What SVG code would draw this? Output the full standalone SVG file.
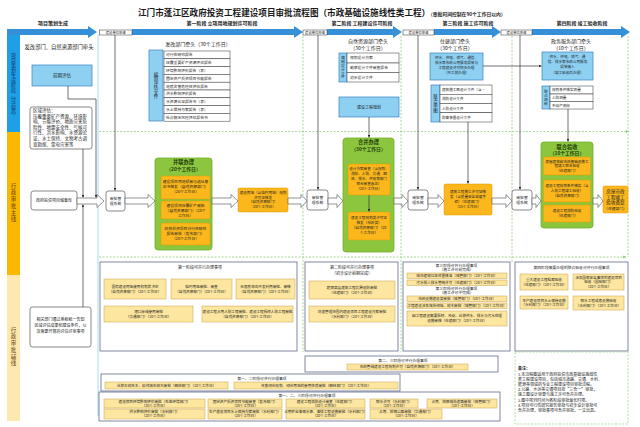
<svg xmlns="http://www.w3.org/2000/svg" width="640" height="427" viewBox="0 0 640 427">
<style>
text{font-family:"Noto Sans CJK SC","Noto Sans",sans-serif;fill:#222}
.ttl{font-size:8.6px;font-weight:bold;fill:#1a1a1a}
.sub{font-size:4.8px;font-weight:bold}
.stg{font-size:5px;font-weight:bold}
.lead{font-size:5px}
.f3{font-size:3.3px}
.f35{font-size:3.6px}
.f38{font-size:3.8px}
.f4{font-size:4px}
.f45{font-size:4.5px}
.gt{font-size:5.2px;font-weight:bold;fill:#1d3a0a}
.vt{writing-mode:vertical-rl}
.blue{fill:#8dd0f2;stroke:#3c80c2;stroke-width:0.7}
.grn{fill:#8cc63f;stroke:#72ad2c;stroke-width:0.8}
.org{fill:#fbb71c;stroke:#e39800;stroke-width:0.5}
.aux{fill:#fde69f;stroke:#c9a04a;stroke-width:0.5}
.wb{fill:#fff;stroke:#555;stroke-width:0.7}
.box{fill:#fff;stroke:#4a5778;stroke-width:0.7}
.row{fill:#fff;stroke:#333;stroke-width:0.5}
.ln{stroke:#333;stroke-width:0.7;fill:none}
.dash{stroke:#8fd07c;stroke-width:0.8;stroke-dasharray:2 1.5;fill:none}
.hol{fill:#fff;stroke:#666;stroke-width:0.7}
.bar{fill:#3590d8}
.app{fill:#fff;stroke:#333;stroke-width:0.5}
</style>
<defs>
<marker id="ah" viewBox="0 0 6 6" refX="6" refY="3" markerWidth="4" markerHeight="4" orient="auto"><path d="M0,0 L6,3 L0,6 z" fill="#222"/></marker>
<marker id="ga" viewBox="0 0 6 6" refX="6" refY="3" markerWidth="4" markerHeight="4" orient="auto"><path d="M0,0 L6,3 L0,6 z" fill="#8fd07c"/></marker>
</defs>
<rect width="640" height="427" fill="#fff"/>

<!-- title -->
<text class="ttl" x="138" y="16">江门市蓬江区政府投资工程建设项目审批流程图（市政基础设施线性类工程）</text>
<text class="sub" x="428" y="15.5">（审批时间控制在90个工作日以内）</text>

<!-- left bands -->
<g id="bands">
<rect x="7" y="29" width="13" height="103" fill="#1fa0e6"/>
<rect x="7" y="132" width="13" height="143" fill="#fbb800"/>
<rect x="7" y="275" width="13" height="146" fill="#fde9b0"/>
<text class="vt" x="13.5" y="85" text-anchor="middle" style="font-size:5px;fill:#0b3a6a">项目策划生成阶段（可前置）</text>
<text class="vt" x="13.5" y="203" text-anchor="middle" style="font-size:5.5px;fill:#6b4300;letter-spacing:1.2px">行政审批主线</text>
<text class="vt" x="13.5" y="347" text-anchor="middle" style="font-size:5.5px;fill:#6b4300;letter-spacing:1.2px">行政审批辅线</text>
</g>

<!-- top stage bar -->
<g id="stagebar">
<rect class="bar" x="7" y="29" width="81" height="6"/>
<path class="bar" d="M88,26 L97,32 L88,38 z"/>
<rect class="bar" x="132" y="29" width="162" height="6"/>
<path class="bar" d="M294,26 L303,32 L294,38 z"/>
<rect class="bar" x="327" y="29" width="66" height="6"/>
<path class="bar" d="M393,26 L402,32 L393,38 z"/>
<rect class="bar" x="434" y="29" width="58" height="6"/>
<path class="bar" d="M492,26 L501,32 L492,38 z"/>
<rect class="bar" x="532" y="29" width="89" height="6"/>
<path class="bar" d="M621,26 L630,32 L621,38 z"/>
<text class="stg" x="53" y="25" text-anchor="middle">项目策划生成</text>
<text class="stg" x="222" y="25" text-anchor="middle">第一阶段  立项用地规划许可阶段</text>
<text class="stg" x="362" y="25" text-anchor="middle">第二阶段  工程建设许可阶段</text>
<text class="stg" x="468" y="25" text-anchor="middle">第三阶段  施工许可阶段</text>
<text class="stg" x="582" y="25" text-anchor="middle">第四阶段  竣工验收阶段</text>
</g>

<!-- dividers -->
<g id="dividers">
<line x1="98" y1="35" x2="98" y2="416" stroke="#a8dcef" stroke-width="1"/>
<line class="dash" x1="303" y1="36" x2="303" y2="352"/>
<line class="dash" x1="401" y1="36" x2="401" y2="352"/>
<line class="dash" x1="512" y1="36" x2="512" y2="262"/>
<line class="dash" x1="628" y1="36" x2="628" y2="257"/>
<line class="dash" x1="99" y1="131.5" x2="629" y2="131.5" marker-end="url(#ga)"/>
<line class="dash" x1="99" y1="257" x2="626" y2="257" marker-end="url(#ga)"/>
</g>

<!-- applicant boxes -->
<g id="apply1"><rect class="app" x="99.5" y="30" width="32.5" height="5"/><text class="f3" x="115.7" y="33.8" text-anchor="middle">建设单位申请</text></g>
<g id="apply2"><rect class="app" x="303" y="30" width="24" height="5"/><text class="f3" x="315" y="33.8" text-anchor="middle">建设单位申请</text></g>
<g id="apply3"><rect class="app" x="403" y="30" width="31" height="5"/><text class="f3" x="418.5" y="33.8" text-anchor="middle">建设单位申请</text></g>
<g id="apply4"><rect class="app" x="501" y="30" width="31" height="5"/><text class="f3" x="516.5" y="33.8" text-anchor="middle">建设单位申请</text></g>

<!-- planning column -->
<text style="font-size:5.3px" x="59" y="48.5" text-anchor="middle">发改部门、自然资源部门牵头</text>
<g id="pre-eval"><rect class="blue" x="32" y="65" width="60" height="21"/><text class="f45" x="62" y="77" text-anchor="middle">前期评估</text></g>
<g id="region-eval"><rect class="wb" x="30" y="107" width="62" height="42" rx="2.5"/>
<text class="f45"><tspan x="33" y="112">区域评估：</tspan><tspan x="33" y="117.6">压覆重要矿产资源、环境影</tspan><tspan x="33" y="123.2">响、节能评价、地质灾害危</tspan><tspan x="33" y="128.8">险性、地震安全性、气候可</tspan><tspan x="33" y="134.4">行性、洪水影响、水资源论</tspan><tspan x="33" y="140">证、水土保持、文物考古调</tspan><tspan x="33" y="145.6">查勘探、雷电灾害等</tspan></text></g>
<g id="reserve"><rect class="wb" x="31" y="191" width="46" height="19" rx="2.5"/><text class="f4" x="54" y="202" text-anchor="middle">政府投资项目储备库</text></g>
<g id="notify"><rect class="wb" x="30" y="307" width="61" height="40" rx="2.5"/>
<text class="f4" text-anchor="middle"><tspan x="60.5" y="321">相关部门通过系统统一告知</tspan><tspan x="60.5" y="327">区域评估成果和建设条件，以</tspan><tspan x="60.5" y="333">及需要开展的评估评审事项</tspan></text></g>

<!-- stage 1 -->
<text class="lead" x="198" y="46" text-anchor="middle">发改部门牵头（30个工作日）</text>
<g id="s1-docs">
<rect class="blue" x="149" y="50" width="14" height="71"/>
<text class="vt" x="156" y="85.5" text-anchor="middle" style="font-size:4.5px">编制评估文件</text>
<rect class="row" x="164" y="51" width="66" height="7.8"/><text class="f38" x="166" y="56.3">可行性研究报告</text>
<rect class="row" x="164" y="58.8" width="66" height="7.8"/><text class="f38" x="166" y="64.1">压覆重要矿产资源评估报告</text>
<rect class="row" x="164" y="66.6" width="66" height="7.8"/><text class="f38" x="166" y="71.9">环境影响评价报告（表）</text>
<rect class="row" x="164" y="74.4" width="66" height="7.8"/><text class="f38" x="166" y="79.7">固定资产投资项目节能报告</text>
<rect class="row" x="164" y="82.2" width="66" height="7.8"/><text class="f38" x="166" y="87.5">地质灾害危险性评估报告</text>
<rect class="row" x="164" y="90" width="66" height="7.8"/><text class="f38" x="166" y="95.3">洪水影响评价报告</text>
<rect class="row" x="164" y="97.8" width="66" height="7.8"/><text class="f38" x="166" y="103.1">水资源论证报告书（表）</text>
<rect class="row" x="164" y="105.6" width="66" height="7.8"/><text class="f38" x="166" y="110.9">水土保持方案报告（表）</text>
<rect class="row" x="164" y="113.4" width="66" height="7.8"/><text class="f38" x="166" y="118.7">社会稳定风险评估报告书</text>
</g>
<g id="s1-sys"><rect class="wb" x="106" y="191" width="19" height="20" rx="2.5"/><text class="f38" text-anchor="middle"><tspan x="115.5" y="199.5">审批管</tspan><tspan x="115.5" y="204.5">理系统</tspan></text></g>
<g id="s1-parallel">
<rect class="grn" x="155" y="158" width="57" height="92" rx="3"/>
<text class="gt" x="183.5" y="164" text-anchor="middle">并联办理</text>
<text class="gt" x="183.5" y="170.5" text-anchor="middle" style="font-size:4.8px">（20个工作日）</text>
<rect class="org" x="161" y="176" width="49" height="23" rx="1.5"/>
<text class="f38" text-anchor="middle"><tspan x="185.5" y="182.5">建设项目用地预审与选址意</tspan><tspan x="185.5" y="187.5">见书核发（自然资源部门）</tspan><tspan x="185.5" y="192.5">（20个工作日）</tspan></text>
<rect class="org" x="161" y="201" width="49" height="18" rx="1.5"/>
<text class="f38" text-anchor="middle"><tspan x="185.5" y="206.5">建设项目压覆矿产审批</tspan><tspan x="185.5" y="211.5">（自然资源部门）（20个</tspan><tspan x="185.5" y="216.5">工作日）</tspan></text>
<rect class="org" x="161" y="223" width="49" height="22" rx="1.5"/>
<text class="f38" text-anchor="middle"><tspan x="185.5" y="229.5">政府投资项目可行性研究</tspan><tspan x="185.5" y="234.5">报告审批（发改部门）</tspan><tspan x="185.5" y="239.5">（20个工作日）</tspan></text>
</g>
<g id="s1-landplan"><rect class="org" x="238" y="188" width="50" height="24" rx="1.5"/>
<text class="f35" text-anchor="middle"><tspan x="263" y="194">建设用地（含临时用地）规划</tspan><tspan x="263" y="198.5">许可证核发</tspan><tspan x="263" y="203">（自然资源部门）</tspan><tspan x="263" y="207.5">（20个工作日）</tspan></text></g>

<!-- stage 2 -->
<text class="lead" x="368" y="43" text-anchor="middle">自然资源部门牵头</text>
<text class="lead" x="368" y="49.5" text-anchor="middle">（30个工作日）</text>
<g id="s2-docs">
<rect class="blue" x="339" y="53" width="8" height="29"/>
<text class="vt" x="343" y="67.5" text-anchor="middle" style="font-size:3.8px">编制设计文件</text>
<rect class="row" x="347" y="53" width="52" height="10"/><text class="f38" x="350" y="59.3">规划设计方案</text>
<rect class="row" x="347" y="63" width="52" height="9.5"/><text class="f38" x="350" y="69">勘察设计文件审查报告</text>
<rect class="row" x="347" y="72.5" width="52" height="9.5"/><text class="f38" x="350" y="78.5">初步设计文件</text>
</g>
<g id="s2-plan"><rect class="blue" x="339" y="97" width="60" height="20"/><text class="f4" x="369" y="108.5" text-anchor="middle">建设工程规划</text></g>
<g id="s2-sys"><rect class="wb" x="307" y="190" width="21" height="20" rx="2.5"/><text class="f38" text-anchor="middle"><tspan x="317.5" y="198.5">审批管</tspan><tspan x="317.5" y="203.5">理系统</tspan></text></g>
<g id="s2-merge">
<rect class="grn" x="343" y="138" width="51" height="114" rx="3"/>
<text class="gt" x="368.5" y="144" text-anchor="middle">合并办理</text>
<text class="gt" x="368.5" y="150.5" text-anchor="middle" style="font-size:4.8px">（30个工作日）</text>
<rect class="org" x="348" y="164" width="42" height="31" rx="1.5"/>
<text class="f35" text-anchor="middle"><tspan x="369" y="170">设计方案审查（含规划、</tspan><tspan x="369" y="175">消防、人防、交通、园</tspan><tspan x="369" y="180">林、排水、供电等部门</tspan><tspan x="369" y="185">联合审查意见）</tspan><tspan x="369" y="190">（20个工作日）</tspan></text>
<rect class="org" x="348" y="212" width="42" height="28" rx="1.5"/>
<text class="f35" text-anchor="middle"><tspan x="369" y="219">建设工程规划类许可证</tspan><tspan x="369" y="224">核发（市政类）</tspan><tspan x="369" y="229">（自然资源部门）（20</tspan><tspan x="369" y="234">个工作日）</tspan></text>
</g>

<!-- stage 3 -->
<text class="lead" x="455" y="43" text-anchor="middle">住建部门牵头</text>
<text class="lead" x="455" y="49.5" text-anchor="middle">（30个工作日）</text>
<g id="s3-utility"><rect class="blue" x="430" y="53" width="53" height="27"/>
<text class="f35" text-anchor="middle"><tspan x="456.5" y="58.5">供水、供电、燃气、通信、</tspan><tspan x="456.5" y="63.5">排水等市政公用服务报装与</tspan><tspan x="456.5" y="68.5">工程建设许可同步办理</tspan><tspan x="456.5" y="74">（开工前办理）</tspan></text></g>
<g id="s3-review">
<rect class="blue" x="431" y="85" width="9" height="37"/>
<text class="vt" x="435.5" y="103.5" text-anchor="middle" style="font-size:4.5px">联合审图</text>
<rect class="row" x="440" y="85" width="52" height="9.25"/><text class="f35" x="442" y="91">建筑施工图设计文件（含…</text>
<rect class="row" x="440" y="94.25" width="52" height="9.25"/><text class="f35" x="442" y="100.2">消防设计文件</text>
<rect class="row" x="440" y="103.5" width="52" height="9.25"/><text class="f35" x="442" y="109.5">人防设计文件</text>
<rect class="row" x="440" y="112.75" width="52" height="9.25"/><text class="f35" x="442" y="118.7">防雷装置设计文件</text>
</g>
<g id="s3-sys"><rect class="wb" x="408" y="190" width="20" height="20" rx="2.5"/><text class="f38" text-anchor="middle"><tspan x="418" y="198.5">审批管</tspan><tspan x="418" y="203.5">理系统</tspan></text></g>
<g id="s3-permit"><rect class="org" x="444" y="184" width="48" height="31" rx="1.5"/>
<text class="f35" text-anchor="middle"><tspan x="468" y="192.5">建筑工程施工许可证核</tspan><tspan x="468" y="197.5">发（含质量安全监督手</tspan><tspan x="468" y="202.5">续）（住建部门）</tspan><tspan x="468" y="207.5">（15个工作日）</tspan></text></g>

<!-- stage 4 -->
<text class="lead" x="571" y="43" text-anchor="middle">政务服务部门牵头</text>
<text class="lead" x="571" y="49.5" text-anchor="middle">（10个工作日）</text>
<g id="s4-utility"><rect class="blue" x="542" y="52" width="51" height="28"/>
<text class="f35" text-anchor="middle"><tspan x="567.5" y="58">供水、供电、燃气、通</tspan><tspan x="567.5" y="63">信、排水等市政公用服务</tspan><tspan x="567.5" y="68">报装接入</tspan><tspan x="567.5" y="73.5">（竣工验收后办理）</tspan></text></g>
<g id="s4-survey">
<rect class="blue" x="542" y="86" width="8" height="23"/>
<text class="vt" x="546" y="97.5" text-anchor="middle" style="font-size:3.8px">联合测绘</text>
<rect class="row" x="550" y="86" width="43" height="8"/><text class="f35" x="552" y="91.3">规划条件核实测量</text>
<rect class="row" x="550" y="94" width="43" height="7.5"/><text class="f35" x="552" y="99">人防测量</text>
<rect class="row" x="550" y="101.5" width="43" height="7.5"/><text class="f35" x="552" y="106.5">不动产测绘</text>
</g>
<g id="s4-sys"><rect class="wb" x="512" y="190" width="20" height="20" rx="2.5"/><text class="f38" text-anchor="middle"><tspan x="522" y="198.5">审批管</tspan><tspan x="522" y="203.5">理系统</tspan></text></g>
<g id="s4-accept">
<rect class="grn" x="541" y="142" width="52" height="86" rx="3"/>
<text class="gt" x="567" y="148.5" text-anchor="middle">联合验收</text>
<text class="gt" x="567" y="155" text-anchor="middle" style="font-size:4.8px">（10个工作日）</text>
<rect class="org" x="543.5" y="157" width="47" height="18" rx="1.5"/>
<text class="f35" text-anchor="middle"><tspan x="567" y="162.5">房屋建筑和市政基础设施工</tspan><tspan x="567" y="167">程竣工联合验收</tspan><tspan x="567" y="171.5">（住建部门）</tspan></text>
<rect class="org" x="543.5" y="180" width="47" height="22" rx="1.5"/>
<text class="f35" text-anchor="middle"><tspan x="567" y="186.5">建设工程规划条件核实（含</tspan><tspan x="567" y="191.5">人防工程竣工验收）</tspan><tspan x="567" y="196.5">（自然资源部门）</tspan></text>
<rect class="org" x="543.5" y="205" width="47" height="17" rx="1.5"/>
<text class="f35" text-anchor="middle"><tspan x="567" y="212">建设工程消防验收</tspan><tspan x="567" y="217">（住建部门）</tspan></text>
</g>
<g id="s4-record"><rect class="org" x="603" y="186" width="25" height="27" rx="1.5"/>
<text text-anchor="middle" style="font-size:4.6px"><tspan x="615.5" y="193">房屋市政</tspan><tspan x="615.5" y="198.5">工程竣工</tspan><tspan x="615.5" y="204">验收备案</tspan><tspan x="615.5" y="209.5" style="font-size:3.8px">（住建部门）</tspan></text></g>

<!-- connectors -->
<g id="connectors">
<path class="hol" d="M77,198 L97,198 L97,194.5 L104,201 L97,207.5 L97,204 L77,204 z"/>
<path class="hol" d="M125,198 L148,198 L148,194.5 L155,201 L148,207.5 L148,204 L125,204 z"/>
<path class="hol" d="M212,198 L231,198 L231,194.5 L238,201 L231,207.5 L231,204 L212,204 z"/>
<path class="hol" d="M288,198 L301,198 L301,194.5 L307,201 L301,207.5 L301,204 L288,204 z"/>
<path class="hol" d="M328,198 L337,198 L337,194.5 L343,201 L337,207.5 L337,204 L328,204 z"/>
<path class="hol" d="M394,198 L402,198 L402,194.5 L408,201 L402,207.5 L402,204 L394,204 z"/>
<path class="hol" d="M428,198 L438,198 L438,194.5 L444,201 L438,207.5 L438,204 L428,204 z"/>
<path class="hol" d="M492,198 L506,198 L506,194.5 L512,201 L506,207.5 L506,204 L492,204 z"/>
<path class="hol" d="M532,198 L536,198 L536,194.5 L541,201 L536,207.5 L536,204 L532,204 z"/>
<path class="hol" d="M593,198 L598,198 L598,194.5 L603,201 L598,207.5 L598,204 L593,204 z"/>
<line class="ln" x1="115" y1="35" x2="115" y2="190.5" marker-end="url(#ah)"/>
<line class="ln" x1="318" y1="35" x2="318" y2="189.5" marker-end="url(#ah)"/>
<line class="ln" x1="418" y1="35" x2="418" y2="189.5" marker-end="url(#ah)"/>
<line class="ln" x1="520" y1="35" x2="520" y2="189.5" marker-end="url(#ah)"/>
<line class="ln" x1="468" y1="122" x2="468" y2="183.5" marker-end="url(#ah)"/>
<line class="ln" x1="568" y1="109" x2="568" y2="141.5" marker-end="url(#ah)"/>
<line class="ln" x1="369" y1="117" x2="369" y2="137.5" marker-end="url(#ah)"/>
<line class="ln" x1="369" y1="195" x2="369" y2="211.5" marker-end="url(#ah)"/>
<line class="ln" x1="83" y1="149" x2="83" y2="197.5" marker-end="url(#ah)"/>
<path class="ln" d="M68,86 L68,99 L96,99 L96,197.5" marker-end="url(#ah)"/>
<line class="ln" x1="83" y1="307" x2="83" y2="204.5" marker-end="url(#ah)"/>
<line class="ln" x1="483" y1="66" x2="541.5" y2="66" marker-end="url(#ah)"/>
</g>

<!-- auxiliary line -->
<g id="aux1">
<rect class="box" x="100" y="262" width="197" height="89"/>
<text class="f4" x="200" y="269" text-anchor="middle">第一阶段可并行办理事项</text>
<rect class="aux" x="104" y="279" width="62" height="20"/>
<text class="f35" text-anchor="middle"><tspan x="135" y="287.5">国有建设用地使用权划拨决定</tspan><tspan x="135" y="292.5">（自然资源部门）（20个工作日）</tspan></text>
<rect class="aux" x="171" y="279" width="61" height="20"/>
<text class="f35" text-anchor="middle"><tspan x="201.5" y="287.5">临时用地审批、审查</tspan><tspan x="201.5" y="292.5">（自然资源部门）（20个工作日）</tspan></text>
<rect class="aux" x="236" y="279" width="59" height="20"/>
<text class="f35" text-anchor="middle"><tspan x="265.5" y="287.5">无居民海岛开发利用审批、审核</tspan><tspan x="265.5" y="292.5">（自然资源部门）（20个工作日）</tspan></text>
<rect class="aux" x="104" y="306" width="89" height="16"/>
<text class="f35" text-anchor="middle"><tspan x="148.5" y="312.5">港口岸线使用审批</tspan><tspan x="148.5" y="317.5">（交通部门）（20个工作日）</tspan></text>
<rect class="aux" x="202" y="306" width="91" height="16"/>
<text class="f35" text-anchor="middle"><tspan x="247.5" y="312.5">建设工程占用人防工程审批、建设工程拆除人防工程审批</tspan><tspan x="247.5" y="317.5">（自然资源部门）（20个工作日）</tspan></text>
</g>
<g id="aux2">
<rect class="box" x="305" y="262" width="93" height="89"/>
<text class="f4" text-anchor="middle"><tspan x="352" y="268.5">第二阶段可并行办理事项</tspan><tspan x="352" y="275">（初步设计前期完成）</tspan></text>
<rect class="aux" x="309" y="281" width="86" height="18"/>
<text class="f35" text-anchor="middle"><tspan x="352" y="288.5">超限高层建筑工程抗震设防审批</tspan><tspan x="352" y="293.5">（住建部门）（20个工作日）</tspan></text>
<rect class="aux" x="309" y="306" width="86" height="16"/>
<text class="f35" text-anchor="middle"><tspan x="352" y="312.5">河道管理范围内建设项目工程建设方案审批</tspan><tspan x="352" y="317.5">（水利部门）（20个工作日）</tspan></text>
</g>
<g id="aux3">
<rect class="box" x="403" y="262" width="107" height="89"/>
<text class="f38" text-anchor="middle"><tspan x="456.5" y="266.5">第三阶段可并行办理事项</tspan><tspan x="456.5" y="271.3">（施工许可前完成）</tspan></text>
<rect class="aux" x="407" y="273" width="100" height="5.5"/><text class="f35" x="457" y="277" text-anchor="middle">城市建筑垃圾处置核准（城管部门）（20个工作日）</text>
<rect class="aux" x="407" y="280" width="100" height="5.5"/><text class="f35" x="457" y="284" text-anchor="middle">污水排入排水管网许可（住建部门）（20个工作日）</text>
<text class="f38" text-anchor="middle"><tspan x="456.5" y="289.5">第三阶段可并行办理事项</tspan><tspan x="456.5" y="294.3">（施工许可中完成）</tspan></text>
<rect class="aux" x="407" y="296" width="100" height="5.5"/><text class="f35" x="457" y="300" text-anchor="middle">市政设施建设类审批（城管部门）（20个工作日）</text>
<rect class="aux" x="407" y="303" width="100" height="5.5"/><text class="f35" x="457" y="307" text-anchor="middle">工程建设涉及城市绿地、树木审批（城管部门）（20个工作日）</text>
<rect class="aux" x="407" y="311" width="100" height="15"/>
<text class="f35" text-anchor="middle"><tspan x="457" y="317">因工程建设需要拆除、改动、迁移供水、排水与污水处理</tspan><tspan x="457" y="322">设施审核（住建部门）（20个工作日）</tspan></text>
</g>
<g id="aux4">
<rect class="box" x="515" y="262" width="113" height="89"/>
<text class="f38" x="571.5" y="269" text-anchor="middle">第四阶段需要办理的联合验收可并行办理事项</text>
<rect class="aux" x="520" y="274" width="48" height="16"/>
<text class="f35" text-anchor="middle"><tspan x="544" y="280.5">重大建设工程档案验收</tspan><tspan x="544" y="285.5">（住建部门）（20个工作日）</tspan></text>
<rect class="aux" x="573" y="274" width="51" height="16"/>
<text class="f35" text-anchor="middle"><tspan x="598.5" y="279">涉及国家安全事项的建设项目</tspan><tspan x="598.5" y="283">验收（国安部门）</tspan><tspan x="598.5" y="287.5">（20个工作日）</tspan></text>
<rect class="aux" x="520" y="296" width="48" height="13"/>
<text class="f35" text-anchor="middle"><tspan x="544" y="301.5">生产建设项目水土保持设施</tspan><tspan x="544" y="306">（水利部门）（20个工作日）</tspan></text>
<rect class="aux" x="573" y="296" width="51" height="14"/>
<text class="f35" text-anchor="middle"><tspan x="598.5" y="302">取水工程或者设施验收</tspan><tspan x="598.5" y="306.5">（水利部门）（20个工作日）</tspan></text>
</g>
<g id="aux23">
<rect class="box" x="305" y="356" width="193" height="16"/>
<text class="f38" x="403" y="361.8" text-anchor="middle">第二、三阶段可并行办理事项</text>
<rect class="aux" x="347" y="364" width="121" height="6"/><text class="f35" x="407.5" y="368.3" text-anchor="middle">市政管线建设工程规划许可（自然资源部门）（20个工作日）</text>
</g>
<g id="aux12">
<rect class="box" x="101" y="374" width="299" height="17"/>
<text class="f38" x="262" y="379.6" text-anchor="middle">第一、二阶段可并行办理事项</text>
<rect class="aux" x="105" y="382" width="123" height="7"/><text class="f35" x="166.5" y="386.8" text-anchor="middle">迁移古树名木、砍伐城市树木审批（园林部门）（20个工作日）</text>
<rect class="aux" x="234" y="382" width="164" height="7"/><text class="f35" x="316" y="386.8" text-anchor="middle">改变绿化规划、绿化用地的使用性质审批（园林部门）（20个工作日）</text>
</g>
<g id="aux123">
<rect class="box" x="99" y="392" width="401" height="29"/>
<text class="f38" x="307" y="397" text-anchor="middle">第一、二、三阶段可并行办理事项</text>
<rect class="aux" x="104" y="399" width="101" height="9"/>
<text class="f35" text-anchor="middle"><tspan x="154.5" y="402.8">建设项目环境影响评价审批（生态环境部门）</tspan><tspan x="154.5" y="406.8">（20个工作日）</tspan></text>
<rect class="aux" x="208" y="399" width="74" height="9"/>
<text class="f35" text-anchor="middle"><tspan x="245" y="402.8">固定资产投资项目节能审查（发改部门）</tspan><tspan x="245" y="406.8">（20个工作日）</tspan></text>
<rect class="aux" x="286" y="399" width="79" height="9"/>
<text class="f35" text-anchor="middle"><tspan x="325.5" y="402.8">建设工程消防设计审查（住建部门）</tspan><tspan x="325.5" y="406.8">（20个工作日）</tspan></text>
<rect class="aux" x="370" y="399" width="48" height="9"/>
<text class="f35" text-anchor="middle"><tspan x="394" y="402.8">取水许可（水利部门）</tspan><tspan x="394" y="406.8">（20个工作日）</tspan></text>
<rect class="aux" x="427" y="399" width="70" height="9"/>
<text class="f35" text-anchor="middle"><tspan x="462" y="402.8">占用、挖掘城市道路审批（城管部门）</tspan><tspan x="462" y="406.8">（20个工作日）</tspan></text>
<rect class="aux" x="104" y="409" width="101" height="10"/>
<text class="f35" text-anchor="middle"><tspan x="154.5" y="413.2">洪水影响评价审批（水利部门）</tspan><tspan x="154.5" y="417.3">（20个工作日）</tspan></text>
<rect class="aux" x="208" y="409" width="74" height="10"/>
<text class="f35" text-anchor="middle"><tspan x="245" y="413.2">生产建设项目水土保持方案审批（水利部门）</tspan><tspan x="245" y="417.3">（20个工作日）</tspan></text>
<rect class="aux" x="286" y="409" width="79" height="10"/>
<text class="f35" text-anchor="middle"><tspan x="325.5" y="413.2">占用农业灌溉水源、灌排工程设施审批（水利部门）</tspan><tspan x="325.5" y="417.3">（20个工作日）</tspan></text>
<rect class="aux" x="370" y="409" width="72" height="10"/>
<text class="f35" text-anchor="middle"><tspan x="406" y="413.2">占用、挖掘公路审批（交通部门）</tspan><tspan x="406" y="417.3">（20个工作日）</tspan></text>
</g>

<!-- notes -->
<g id="notes">
<rect x="515" y="352" width="113" height="72" fill="#fff" stroke="#8fd07c" stroke-width="0.7" stroke-dasharray="2 1.5"/>
<text class="f4"><tspan x="518" y="370" font-weight="bold">备注：</tspan><tspan x="518" y="375.5">1.本流程图适用于政府投资市政基础设施线性</tspan><tspan x="518" y="380.5">类工程建设项目，包括城市道路、交通、水利、</tspan><tspan x="518" y="385.5">能源等领域的专业工程建设项目审批流程。</tspan><tspan x="518" y="391">2.公路、水运等交通项目按“三合一”审批，</tspan><tspan x="518" y="396">施工图设计审查与施工许可合并办理。</tspan><tspan x="518" y="401.5">3.图中所列时间为各阶段审批最长时限。</tspan><tspan x="518" y="407">4.项目可行性研究报告审批与初步设计审批可</tspan><tspan x="518" y="412">合并办理，审批事项可合并审批，一文出具。</tspan></text>
</g>
</svg>
